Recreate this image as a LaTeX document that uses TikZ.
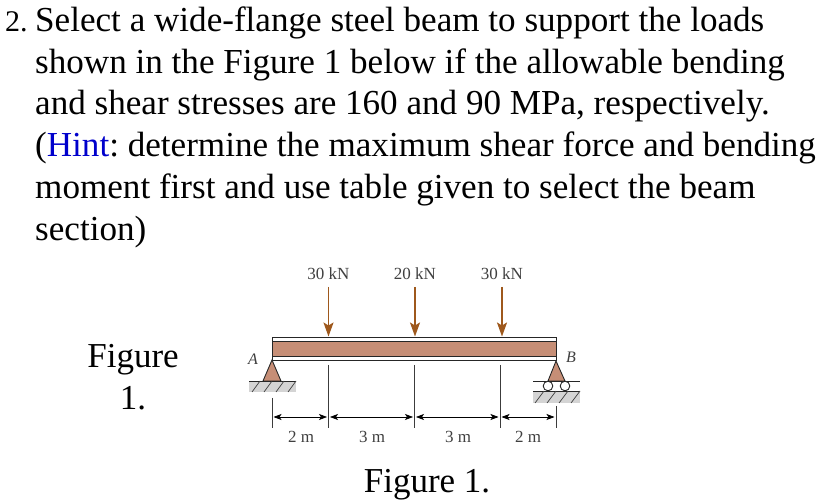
\documentclass[tikz,border=0pt]{standalone}
\usepackage{fontspec}
\setmainfont{Liberation Serif}
\usetikzlibrary{arrows.meta}
\definecolor{beamfill}{RGB}{198,142,118}
\definecolor{loadcol}{RGB}{158,88,28}
\definecolor{groundcol}{RGB}{212,212,212}
\definecolor{dimcol}{RGB}{60,60,60}
\tikzset{textline/.style = {anchor=base west, inner sep=0pt, font=\fontsize{35.1}{35}\selectfont\frenchspacing},
    figtext/.style = {anchor=base, inner sep=0pt, font=\fontsize{35}{35}\selectfont},
    small/.style = {inner sep=0pt, text=black!75, font=\fontsize{17}{17}\selectfont},
    load/.style = {-{Stealth[length=14pt,width=10pt,inset=3pt]}, loadcol, line width=1.8pt},
    dimline/.style = {{Stealth[length=8pt,width=6pt,inset=2pt]}-{Stealth[length=8pt,width=6pt,inset=2pt]}, black, line width=0.7pt},
    ext/.style = {dimcol, line width=0.7pt},
    support/.style = {draw=black!85, fill=beamfill, line width=0.9pt},
    ground/.style = {fill=groundcol, draw=none}}
\begin{document}
\begin{tikzpicture}[x=1pt,y=-1pt]
    \useasboundingbox[fill=white](0,0)rectangle(820,502);
    % problem text
    \node[textline,font=\fontsize{30}{30}\selectfont](l0)at(5,32){2.};
    \node[textline](l1)at(35,32){Select a wide-flange steel beam to support the loads};
    \node[textline](l2)at(35,74){shown in the Figure 1 below if the allowable bending};
    \node[textline](l3)at(35,115){and shear stresses are 160 and 90 MPa, respectively.};
    \node[textline](l4)at(35,157){(\textcolor{blue!80!black}{Hint}: determine the maximum shear force and bending};
    \node[textline](l5)at(35,199){moment first and use table given to select the beam};
    \node[textline](l6)at(35,241){section)};
    \node[figtext](side1)at(133,368){Figure};
    \node[figtext](side2)at(133,410){1.};
    \node[figtext](figcap)at(427,493){Figure 1.};
    % beam
    \draw[black!85,line width=0.9pt,fill=white](272,337)rectangle(556,360);
    \draw[black!85,line width=0.9pt,fill=beamfill](272,341.5)rectangle(556,356);
    % supports
    \fill[ground](249,381)rectangle(296,392);
    \draw[black!85,line width=0.8pt](249,381)--(296,381);
    \foreach \x in {252,264,276,288}
        \draw[black!75,line width=0.7pt](\x,392)--(\x+8,381);
    \draw[support](272,360)--(263,381)--(281,381)--cycle;
    \fill[ground](533,391)rectangle(580,403);
    \draw[black!85,line width=0.8pt](533,381)--(580,381);
    \draw[black!85,line width=0.8pt](533,391)--(580,391);
    \foreach \x in {535,547,559,571}
        \draw[black!75,line width=0.7pt](\x,403)--(\x+9,391);
    \draw[black!85,line width=0.9pt,fill=white](548,386)circle(4.8);
    \draw[black!85,line width=0.9pt,fill=white](565,386)circle(4.8);
    \draw[support](556,361)--(548,381)--(565,381)--cycle;
    \node[small,font=\fontsize{16}{16}\selectfont\itshape](A)at(253,359){A};
    \node[small,font=\fontsize{16}{16}\selectfont\itshape](B)at(571,357){B};
    % loads
    \foreach \x/\t/\n in {328.5/30/a,415/20/b,502/30/c}{
        \node[small](f\n)at(\x,274){\t{} kN};
        \coordinate(t\n)at(\x,287);
        \coordinate(h\n)at(\x,336.5);
        \draw[load](t\n)--(h\n);
    }
    % dimensions
    \foreach \x/\a/\n in {272/398/p,328.5/365/q,414.5/365/r,500/365/s,556/406/u}{
        \coordinate(e\n)at(\x,\a);
        \coordinate(d\n)at(\x,417);
        \coordinate(b\n)at(\x,428);
        \draw[ext](e\n)--(b\n);
    }
    \foreach \p/\q/\t/\x in {p/q/2/301,q/r/3/372,r/s/3/458,s/u/2/528}{
        \draw[dimline]([xshift=1.5pt]d\p)--([xshift=-1.5pt]d\q);
        \node[small](m\p)at(\x,437){\t{} m};
    }
\end{tikzpicture}
\end{document}
